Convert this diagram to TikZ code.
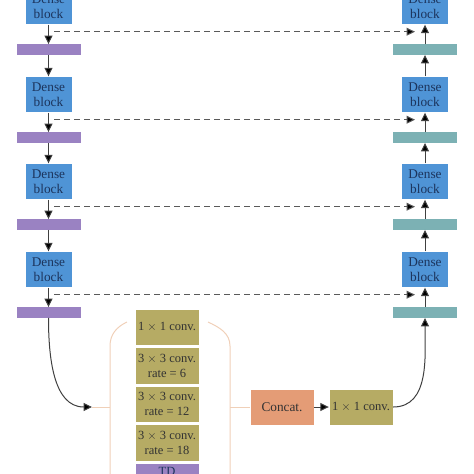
\documentclass[tikz,border=0pt]{standalone}
\usepackage{fontspec}
\setmainfont{Liberation Serif}
\usetikzlibrary{arrows.meta}

\definecolor{denseblue}{RGB}{79,148,214}
\definecolor{densetext}{RGB}{28,52,92}
\definecolor{downpurple}{RGB}{154,130,194}
\definecolor{upteal}{RGB}{124,177,180}
\definecolor{convolive}{RGB}{182,171,100}
\definecolor{concatorange}{RGB}{228,156,118}
\definecolor{bracketorange}{RGB}{240,208,184}

\newcommand\DownStage[3]{
  \node[dense] (downblk#3) at (#1,#2) {Dense\\block};
  \node[bar,fill=downpurple] (downbar#3) at (#1,#2+43) {};
  \draw[flow] (downblk#3.south) -- (downbar#3.north);
}
\newcommand\UpStage[3]{
  \node[dense] (upblk#3) at (#1,#2) {Dense\\block};
  \node[bar,fill=upteal] (upbar#3) at (#1,#2+43) {};
  \draw[flow] (upbar#3.north) -- (upblk#3.south);
  \draw[skip] ([xshift=5.5pt,yshift=-7pt] downblk#3.south) -- ([xshift=-10pt,yshift=-7pt] upblk#3.south);
}
\tikzstyle{box}=[rectangle,inner sep=0pt,align=center,draw=white,line width=0.4pt]
\tikzstyle{dense}=[box,fill=denseblue,text=densetext,minimum width=47pt,minimum height=36pt,font=\fontsize{13.3}{15}\selectfont]
\tikzstyle{bar}=[box,draw=none,minimum width=64pt,minimum height=10.5pt]
\tikzstyle{conv}=[box,fill=convolive,text=black!80,minimum width=64pt,minimum height=36.5pt]
\tikzstyle{flow}=[line width=1pt,draw=black!75,-{Triangle[length=8.5pt,width=8pt,fill=black]}]
\tikzstyle{skip}=[flow,dashed,dash pattern=on 6pt off 4pt,draw=black!65]
\tikzstyle{bracket}=[line width=1pt,draw=bracketorange]

\begin{document}
\begin{tikzpicture}[x=1pt,y=-1pt,font=\fontsize{12.5}{15}\selectfont]
  \useasboundingbox (0,0) rectangle (474,474);

  \DownStage{48.5}{6.5}{1}
  \DownStage{48.5}{94.5}{2}
  \DownStage{48.5}{181.5}{3}
  \DownStage{48.5}{269.5}{4}
  \draw[flow] (downbar1.south) -- (downblk2.north);
  \draw[flow] (downbar2.south) -- (downblk3.north);
  \draw[flow] (downbar3.south) -- (downblk4.north);

  \UpStage{425}{6.5}{1}
  \UpStage{425}{94.5}{2}
  \UpStage{425}{181.5}{3}
  \UpStage{425}{269.5}{4}
  \draw[flow] (upblk2.north) -- (upbar1.south);
  \draw[flow] (upblk3.north) -- (upbar2.south);
  \draw[flow] (upblk4.north) -- (upbar3.south);

  % atrous branch
  \node[conv] (aspp1) at (167,327) {1 $\times$ 1 conv.};
  \node[conv] (aspp2) at (167,365.5) {3 $\times$ 3 conv.\\rate = 6};
  \node[conv] (aspp3) at (167,404) {3 $\times$ 3 conv.\\rate = 12};
  \node[conv] (aspp4) at (167,442.5) {3 $\times$ 3 conv.\\rate = 18};
  \node[conv,fill=downpurple,text=densetext] (td) at (167,481) {TD\\ \strut};

  \draw[bracket] (127,322) to[out=205,in=90] (110,346) -- (110,480);
  \draw[bracket] (208,322) to[out=-25,in=90] (230,346) -- (230,480);
  \coordinate (asppin) at (92,407);
  \coordinate (bracketL) at (110,407);
  \coordinate (bracketR) at (230,407);

  \node[box,fill=concatorange,text=black!80,minimum width=64pt,minimum height=36pt,font=\fontsize{13.3}{15}\selectfont] (concat) at (282,407) {Concat.};
  \node[conv,minimum height=36pt] (fuse) at (361,407) {1 $\times$ 1 conv.};

  \draw[bracket] (asppin) -- (bracketL);
  \draw[bracket] (bracketR) -- (concat.west);
  \draw[flow] (downbar4.south) to[out=-90,in=180] (asppin);
  \draw[flow] (concat.east) -- (fuse.west);
  \draw[flow] (fuse.east) to[out=0,in=-90] (upbar4.south);
\end{tikzpicture}
\end{document}
